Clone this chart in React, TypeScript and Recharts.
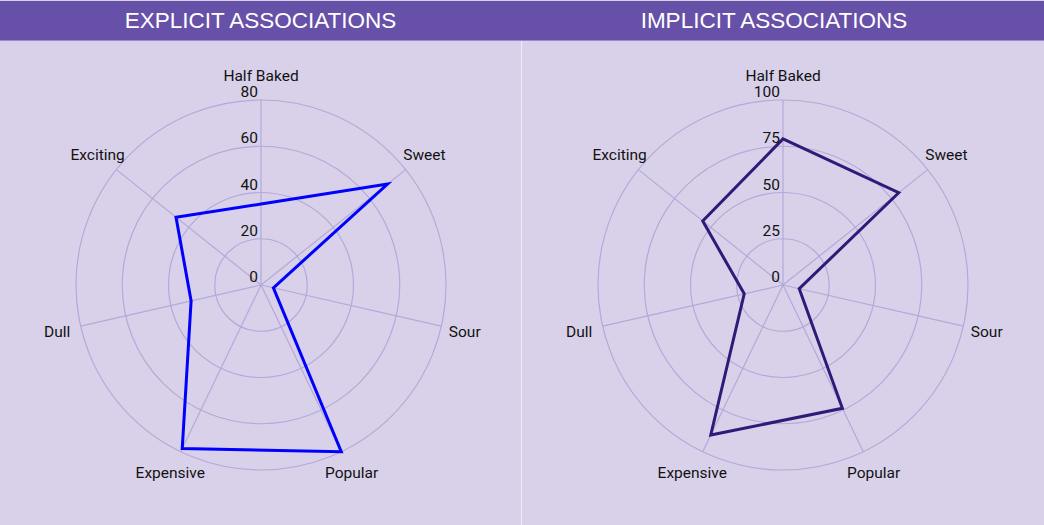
import { PolarAngleAxis, PolarGrid, PolarRadiusAxis, Radar, RadarChart } from "recharts";

const categories = ["Half Baked", "Sweet", "Sour", "Popular", "Expensive", "Dull", "Exciting"];
const explicitValues = [35, 70, 5.5, 80, 78.5, 31, 47];
const implicitValues = [79, 80, 9, 74, 90, 21.5, 55.5];
const explicitTicks = [0, 20, 40, 60, 80];
const implicitTicks = [0, 25, 50, 75, 100];

const FONT = "Roboto, 'Noto Sans', sans-serif";
const HEADER = "#6750a8";
const HEADER_EDGE = "#9a8bcb";

const AngleTick = ({ x, y, payload }: any) => (
  <text
    x={x}
    y={y}
    textAnchor="middle"
    dominantBaseline="central"
    fontFamily={FONT}
    fontSize={15.5}
    fill="#111111"
  >
    {payload.value}
  </text>
);

const RadiusTick = ({ x, y, payload }: any) => (
  <text x={x - 3} y={y - 3} textAnchor="end" fontFamily={FONT} fontSize={15.5} fill="#111111">
    {payload.value}
  </text>
);

function Header({ title, shift }: { title: string; shift: number }) {
  return (
    <div
      style={{
        height: 39,
        marginTop: 1,
        paddingRight: shift,
        background: HEADER,
        borderBottom: `1px solid ${HEADER_EDGE}`,
        color: "#ffffff",
        fontFamily: "'Liberation Sans', Arial, sans-serif",
        fontSize: 22.5,
        lineHeight: "40px",
        textAlign: "center",
      }}
    >
      {title}
    </div>
  );
}

function Panel({
  title,
  values,
  ticks,
  color,
  width,
  shift,
}: {
  title: string;
  values: number[];
  ticks: number[];
  color: string;
  width: number;
  shift: number;
}) {
  const data = categories.map((name, i) => ({ name, value: values[i] }));
  return (
    <div style={{ width, height: 525, flex: "none" }}>
      <Header title={title} shift={shift} />
      <RadarChart width={width} height={484} data={data} cx={261} cy={244} outerRadius={185}>
        <PolarGrid gridType="circle" stroke="#b3a9da" strokeWidth={1.2} />
        <PolarAngleAxis dataKey="name" tick={<AngleTick />} tickLine={false} tickSize={24} axisLine={false} />
        <PolarRadiusAxis
          angle={90}
          domain={[ticks[0], ticks[ticks.length - 1]]}
          ticks={ticks as any}
          tickCount={ticks.length}
          axisLine={false}
          tick={<RadiusTick />}
        />
        <Radar
          dataKey="value"
          stroke={color}
          strokeWidth={3}
          fill="none"
          fillOpacity={0}
          dot={false}
          isAnimationActive={false}
        />
      </RadarChart>
    </div>
  );
}

export default function App() {
  return (
    <div
      style={{
        position: "absolute",
        left: 0,
        top: 0,
        width: 1044,
        height: 525,
        background: "#d9d1e9",
        display: "flex",
        overflow: "hidden",
      }}
    >
      <style>{"body{margin:0}"}</style>
      <Panel
        title="EXPLICIT ASSOCIATIONS"
        values={explicitValues}
        ticks={explicitTicks}
        color="#0000ff"
        width={521}
        shift={0}
      />
      <div style={{ width: 1, flex: "none" }}>
        <div style={{ height: 39, marginTop: 1, background: HEADER, borderBottom: `1px solid ${HEADER_EDGE}` }} />
        <div style={{ height: 484, background: "#eeeaf6" }} />
      </div>
      <Panel
        title="IMPLICIT ASSOCIATIONS"
        values={implicitValues}
        ticks={implicitTicks}
        color="#2e1a78"
        width={522}
        shift={18}
      />
    </div>
  );
}
